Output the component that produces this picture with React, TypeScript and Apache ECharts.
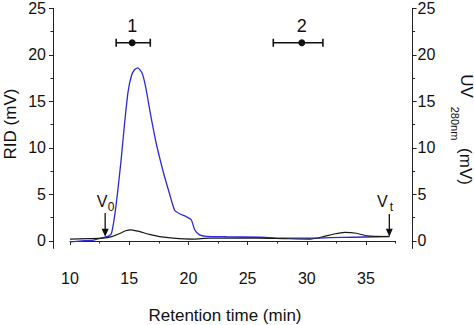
import React, { useEffect, useRef } from "react";
import * as echarts from "echarts";

// RID trace (left axis), retention time in min and signal in mV
const RID_TIME = [10, 11, 12, 12.97, 13.3, 13.5, 13.75, 14.0, 14.3, 14.6, 14.9, 15.2, 15.45, 15.73, 16.1, 16.38, 16.89, 17.28, 17.84, 18.4, 18.84, 19.3, 19.83, 20.25, 20.53, 20.95, 21.5, 23.2, 26, 28, 30.3, 32, 34, 36, 36.97];
const RID_MV = [-0.1, 0.0, 0.1, 0.4, 0.55, 0.8, 2.5, 5.0, 8.5, 12.5, 16.0, 17.8, 18.4, 18.6, 18.0, 16.6, 13.0, 10.5, 7.6, 5.1, 3.3, 2.9, 2.6, 2.25, 1.2, 0.65, 0.5, 0.45, 0.4, 0.3, 0.3, 0.35, 0.4, 0.45, 0.5];

// UV 280 nm trace (right axis)
const UV_TIME = [10, 11.5, 12.76, 13.6, 14.2, 14.7, 15.17, 15.9, 16.7, 17.57, 18.7, 20.4, 21.8, 24, 26, 28, 30.3, 31.4, 32.3, 33.2, 34.2, 35.1, 36.97];
const UV_MV = [0.2, 0.25, 0.3, 0.5, 0.8, 1.1, 1.2, 1.0, 0.7, 0.46, 0.3, 0.2, 0.3, 0.3, 0.3, 0.25, 0.2, 0.46, 0.75, 0.93, 0.83, 0.54, 0.46];

// Axis ticks
const X_MAJOR = [10, 15, 20, 25, 30, 35];
const X_MINOR = [12.5, 17.5, 22.5, 27.5, 32.5, 37.5];
const Y_MAJOR = [0, 5, 10, 15, 20, 25];
const Y_MINOR = [2.5, 7.5, 12.5, 17.5, 22.5];

// Fractions with retention-time ranges
const FRACTION_LABELS = ["1", "2"];
const FRACTION_CENTER = [15.25, 29.58];
const FRACTION_LOW = [13.9, 27.17];
const FRACTION_HIGH = [16.78, 31.36];
const FRACTION_LEVEL = [21.3, 21.3];

// V0 / Vt markers
const MARKER_SUB = ["0", "t"];
const MARKER_TIME = [12.97, 36.97];
const MARKER_TOP = [3.0, 2.9];
const MARKER_TIP = [0.46, 0.46];

const FONT = "'Liberation Sans', Arial, Helvetica, sans-serif";
const INK = "#111";
const AXIS = "#222";

export default function App() {
  const ref = useRef<HTMLDivElement>(null);

  useEffect(() => {
    if (!ref.current) return;
    const chart = echarts.init(ref.current, undefined, { renderer: "svg" });

    const rid = RID_TIME.map((t, i) => [t, RID_MV[i]]);
    const uv = UV_TIME.map((t, i) => [t, UV_MV[i]]);
    const fractions = FRACTION_CENTER.map((c, i) => [c, FRACTION_LOW[i], FRACTION_HIGH[i], FRACTION_LEVEL[i], i]);
    const markers = MARKER_TIME.map((t, i) => [t, MARKER_TOP[i], MARKER_TIP[i], i]);

    const xBase = {
      type: "value" as const,
      min: 10,
      max: 37.5,
      position: "bottom" as const,
      offset: 15,
      splitLine: { show: false },
    };
    const yBase = {
      type: "value" as const,
      min: -0.8,
      max: 25,
      offset: 17,
      splitLine: { show: false },
    };

    chart.setOption({
      animation: false,
      backgroundColor: "#fff",
      textStyle: { fontFamily: FONT },
      grid: { left: 70, right: 78.4, top: 8.3, bottom: 76.6, containLabel: false },
      xAxis: [
        {
          ...xBase,
          axisLine: { show: true, lineStyle: { color: AXIS, width: 1 } },
          axisTick: { show: true, customValues: X_MAJOR, length: 4, lineStyle: { color: AXIS } },
          axisLabel: { show: true, customValues: X_MAJOR, fontSize: 16, color: INK, margin: 7, fontFamily: FONT },
        },
        {
          ...xBase,
          axisLine: { show: false },
          axisTick: { show: true, customValues: X_MINOR, length: 2.5, lineStyle: { color: AXIS } },
          axisLabel: { show: false },
        },
      ],
      yAxis: [
        {
          ...yBase,
          position: "left",
          axisLine: { show: true, lineStyle: { color: AXIS, width: 1 } },
          axisTick: { show: true, customValues: Y_MAJOR, length: 4, lineStyle: { color: AXIS } },
          axisLabel: { show: true, customValues: Y_MAJOR, fontSize: 16, color: INK, margin: 7, fontFamily: FONT },
        },
        {
          ...yBase,
          position: "left",
          axisLine: { show: false },
          axisTick: { show: true, customValues: Y_MINOR, length: 2.5, lineStyle: { color: AXIS } },
          axisLabel: { show: false },
        },
        {
          ...yBase,
          position: "right",
          axisLine: { show: true, lineStyle: { color: AXIS, width: 1 } },
          axisTick: { show: true, customValues: Y_MAJOR, length: 4, lineStyle: { color: AXIS } },
          axisLabel: { show: true, customValues: Y_MAJOR, fontSize: 16, color: INK, margin: 5, fontFamily: FONT },
        },
        {
          ...yBase,
          position: "right",
          axisLine: { show: false },
          axisTick: { show: true, customValues: Y_MINOR, length: 2.5, lineStyle: { color: AXIS } },
          axisLabel: { show: false },
        },
      ],
      graphic: [
        {
          type: "text",
          x: 10,
          y: 124,
          rotation: Math.PI / 2,
          style: { text: "RID (mV)", fontSize: 17, fill: INK, align: "center", verticalAlign: "middle", fontFamily: FONT },
        },
        {
          type: "text",
          x: 225,
          y: 315,
          style: { text: "Retention time (min)", fontSize: 17, fill: INK, align: "center", verticalAlign: "middle", fontFamily: FONT },
        },
        {
          type: "text",
          x: 466,
          y: 86,
          rotation: -Math.PI / 2,
          style: { text: "UV", fontSize: 17, fill: INK, align: "center", verticalAlign: "middle", fontFamily: FONT },
        },
        {
          type: "text",
          x: 454.5,
          y: 123.5,
          rotation: -Math.PI / 2,
          style: { text: "280nm", fontSize: 11, fill: INK, align: "center", verticalAlign: "middle", fontFamily: FONT },
        },
        {
          type: "text",
          x: 465,
          y: 166.5,
          rotation: -Math.PI / 2,
          style: { text: "(mV)", fontSize: 17, fill: INK, align: "center", verticalAlign: "middle", fontFamily: FONT },
        },
      ],
      series: [
        {
          type: "line",
          name: "RID",
          xAxisIndex: 0,
          yAxisIndex: 0,
          data: rid,
          showSymbol: false,
          smooth: 0.2,
          lineStyle: { color: "#2a2ad6", width: 1.3 },
          z: 2,
        },
        {
          type: "line",
          name: "UV280",
          xAxisIndex: 0,
          yAxisIndex: 2,
          data: uv,
          showSymbol: false,
          smooth: 0.2,
          lineStyle: { color: "#1a1a1a", width: 1.2 },
          z: 3,
        },
        {
          type: "custom",
          name: "fractions",
          xAxisIndex: 0,
          yAxisIndex: 0,
          data: fractions,
          encode: { x: [0, 1, 2], y: 3 },
          clip: false,
          z: 4,
          renderItem: (params: any, api: any) => {
            const lvl = api.value(3);
            const c = api.coord([api.value(0), lvl]);
            const lo = api.coord([api.value(1), lvl]);
            const hi = api.coord([api.value(2), lvl]);
            const idx = api.value(4);
            const ls = { stroke: "#111", lineWidth: 1.6 };
            return {
              type: "group",
              children: [
                { type: "line", shape: { x1: lo[0], y1: lo[1], x2: hi[0], y2: hi[1] }, style: ls },
                { type: "line", shape: { x1: lo[0], y1: lo[1] - 4, x2: lo[0], y2: lo[1] + 4 }, style: ls },
                { type: "line", shape: { x1: hi[0], y1: hi[1] - 4, x2: hi[0], y2: hi[1] + 4 }, style: ls },
                { type: "circle", shape: { cx: c[0], cy: c[1], r: 3.5 }, style: { fill: "#111" } },
                {
                  type: "text",
                  x: c[0],
                  y: c[1] - 17,
                  style: {
                    text: FRACTION_LABELS[idx],
                    fontSize: 18,
                    fill: INK,
                    align: "center",
                    verticalAlign: "middle",
                    fontFamily: FONT,
                  },
                },
              ],
            };
          },
        },
        {
          type: "custom",
          name: "markers",
          xAxisIndex: 0,
          yAxisIndex: 0,
          data: markers,
          encode: { x: 0, y: [1, 2] },
          clip: false,
          z: 5,
          renderItem: (params: any, api: any) => {
            const t = api.value(0);
            const top = api.coord([t, api.value(1)]);
            const tip = api.coord([t, api.value(2)]);
            const idx = api.value(3);
            const shift = idx === 0 ? 0 : -4;
            return {
              type: "group",
              children: [
                {
                  type: "line",
                  shape: { x1: top[0], y1: top[1], x2: tip[0], y2: tip[1] - 6 },
                  style: { stroke: "#111", lineWidth: 1.3 },
                },
                {
                  type: "polygon",
                  shape: { points: [[tip[0] - 3.5, tip[1] - 8], [tip[0] + 3.5, tip[1] - 8], [tip[0], tip[1]]] },
                  style: { fill: "#111" },
                },
                {
                  type: "text",
                  x: top[0] - 3 + shift,
                  y: top[1] - 12,
                  style: { text: "V", fontSize: 16, fill: INK, align: "center", verticalAlign: "middle", fontFamily: FONT },
                },
                {
                  type: "text",
                  x: top[0] + 6 + shift,
                  y: top[1] - 6.5,
                  style: {
                    text: MARKER_SUB[idx],
                    fontSize: 12,
                    fill: INK,
                    align: "center",
                    verticalAlign: "middle",
                    fontFamily: FONT,
                  },
                },
              ],
            };
          },
        },
      ],
    });

    return () => {
      chart.dispose();
    };
  }, []);

  return (
    <div
      ref={ref}
      style={{ position: "absolute", left: 0, top: 0, width: 474, height: 325, background: "#fff" }}
    />
  );
}
